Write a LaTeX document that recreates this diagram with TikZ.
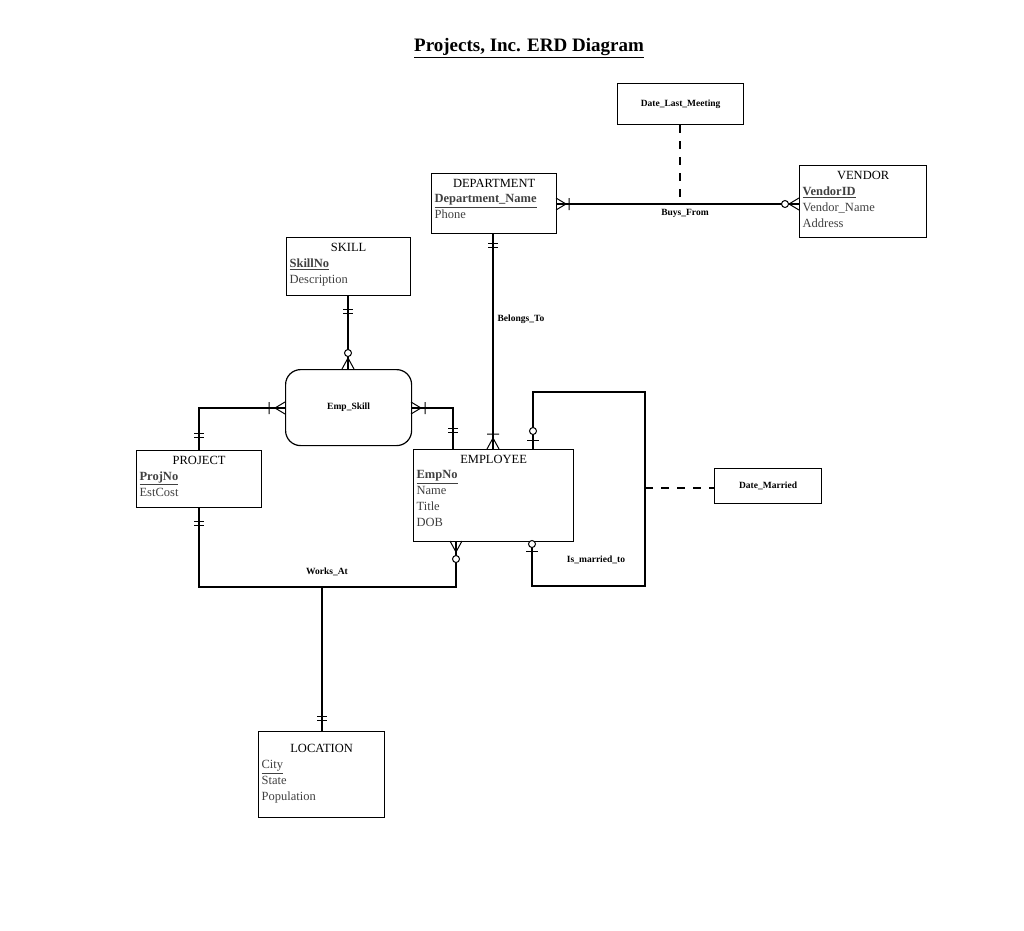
\documentclass[tikz,border=0pt]{standalone}
\usepackage{fontspec}
\setmainfont{Liberation Serif}
\begin{document}
\begin{tikzpicture}[x=1pt,y=-1pt,line width=1.2pt,
 box/.style={draw,line width=1.2pt,inner sep=0pt,anchor=north west},
 ttl/.style={anchor=north,inner sep=0pt,font=\fontsize{12.5}{14}\selectfont},
 att/.style={anchor=north west,inner sep=0pt,align=left,font=\fontsize{12.5}{16}\selectfont,text=black!75},
 lbl/.style={inner sep=1pt,font=\bfseries\fontsize{9.5}{11}\selectfont},
 ln/.style={line width=1.2pt},
 cf/.style={line width=1pt},
 dsh/.style={line width=1.2pt,dash pattern=on 8pt off 8pt}]
\useasboundingbox (0,0) rectangle (1024,930);
\node[font=\bfseries\fontsize{19}{22}\selectfont] (title) at (529,48) {\underline{Projects, Inc. ERD Diagram}};
% entity boxes
\node[box,minimum width=126,minimum height=41] (dlm) at (617,83) {};
\node[lbl] at (dlm.center) {Date\_Last\_Meeting};
\node[box,minimum width=125,minimum height=60] (dept) at (431,173) {};
\node[ttl] at ([yshift=-6]dept.north) {DEPARTMENT};
\node[att] at ([xshift=3,yshift=-21]dept.north west) {\textbf{\underline{Department\_Name}}\\Phone};
\node[box,minimum width=127,minimum height=72] (vend) at (799,165) {};
\node[ttl] at ([yshift=-6]vend.north) {VENDOR};
\node[att] at ([xshift=3,yshift=-21]vend.north west) {\textbf{\underline{VendorID}}\\Vendor\_Name\\Address};
\node[box,minimum width=124,minimum height=58] (skill) at (286,237) {};
\node[ttl] at ([yshift=-6]skill.north) {SKILL};
\node[att] at ([xshift=3,yshift=-21]skill.north west) {\textbf{\underline{SkillNo}}\\Description};
\node[box,rounded corners=15pt,minimum width=126,minimum height=76] (es) at (285,369) {};
\node[lbl] at (es.center) {Emp\_Skill};
\node[box,minimum width=125,minimum height=57] (proj) at (136,450) {};
\node[ttl] at ([yshift=-6]proj.north) {PROJECT};
\node[att] at ([xshift=3,yshift=-21]proj.north west) {\textbf{\underline{ProjNo}}\\EstCost};
\node[box,minimum width=160,minimum height=92] (emp) at (413,449) {};
\node[ttl] at ([yshift=-6]emp.north) {EMPLOYEE};
\node[att] at ([xshift=3,yshift=-21]emp.north west) {\textbf{\underline{EmpNo}}\\Name\\Title\\DOB};
\node[box,minimum width=107,minimum height=35] (dm) at (714,468) {};
\node[lbl] at (dm.center) {Date\_Married};
\node[box,minimum width=126,minimum height=86] (loc) at (258,731) {};
\node[ttl] at ([yshift=-13]loc.north) {LOCATION};
\node[att] at ([xshift=3,yshift=-29]loc.north west) {\underline{City}\\State\\Population};
% coordinates
\coordinate (bf) at (680,204);
\coordinate (wa) at (322,587);
\coordinate (mr) at (645,488);
% Buys_From
\draw[ln] (dept.east |- bf) -- (vend.west |- bf);
\node[lbl] at (685,213) {Buys\_From};
\draw[dsh] (dlm.south -| bf) -- (bf);
\draw[cf] (556,198) -- (566,204) -- (556,210) (569,198) -- (569,210);
\draw[cf] (799,198) -- (789,204) -- (799,210);
\draw[cf,fill=white] (785,204) circle (3.5);
% Belongs_To
\draw[ln] (dept.south -| 493,0) -- (emp.north -| 493,0);
\node[lbl,anchor=west] at (496,319) {Belongs\_To};
\draw[cf] (488,243)--(498,243) (488,247)--(498,247);
\draw[cf] (487,449)--(493,438)--(499,449) (487,434)--(499,434);
% Skill - Emp_Skill
\draw[ln] (skill.south -| 348,0) -- (es.north -| 348,0);
\draw[cf] (343,309)--(353,309) (343,313)--(353,313);
\draw[cf] (342,369)--(348,358)--(354,369);
\draw[cf,fill=white] (348,353) circle (3.5);
% Emp_Skill - Project
\draw[ln] (es.west |- 0,408) -| (proj.north -| 199,0);
\draw[cf] (285,402)--(275,408)--(285,414) (269,402)--(269,414);
\draw[cf] (194,433)--(204,433) (194,437)--(204,437);
% Emp_Skill - Employee
\draw[ln] (es.east |- 0,408) -| (emp.north -| 453,0);
\draw[cf] (411,402)--(421,408)--(411,414) (425,402)--(425,414);
\draw[cf] (448,428)--(458,428) (448,432)--(458,432);
% Works_At
\draw[ln] (proj.south -| 199,0) |- (wa) -| (emp.south -| 456,0);
\draw[ln] (wa) -- (loc.north -| wa);
\node[lbl] at (327,572) {Works\_At};
\draw[cf] (194,521)--(204,521) (194,525)--(204,525);
\draw[cf] (450,541)--(456,552)--(462,541);
\draw[cf,fill=white] (456,559) circle (3.5);
\draw[cf] (317,716)--(327,716) (317,720)--(327,720);
% Is_married_to
\draw[ln] (emp.north -| 533,0) |- (533,392) -| (mr) |- (532,586) -- (emp.south -| 532,0);
\draw[dsh] (mr) -- (dm.west |- mr);
\node[lbl] at (596,560) {Is\_married\_to};
\draw[cf] (527,440)--(539,440);
\draw[cf,fill=white] (533,431) circle (3.5);
\draw[cf] (526,551)--(538,551);
\draw[cf,fill=white] (532,544) circle (3.5);
\end{tikzpicture}
\end{document}
